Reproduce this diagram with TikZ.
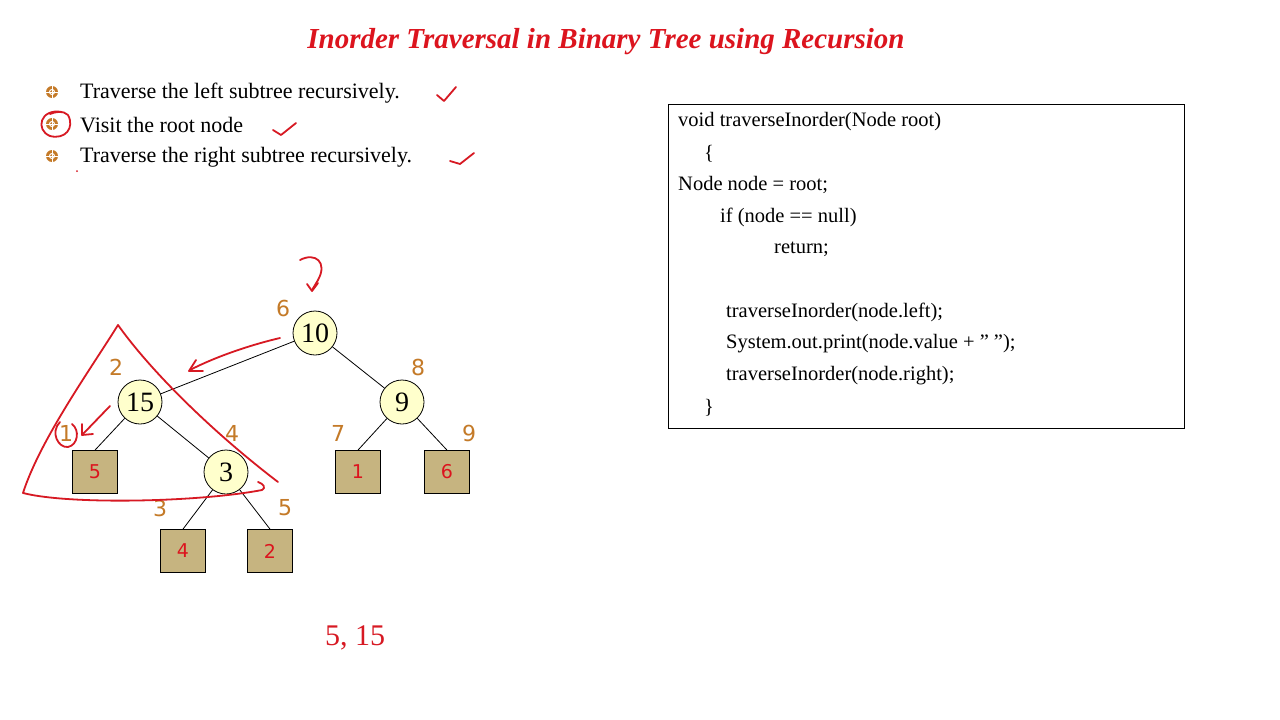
\documentclass[tikz,border=0pt]{standalone}
\usepackage{fontspec}
\setmainfont{Liberation Serif}
\newfontfamily\numf{DejaVu Sans}
\usetikzlibrary{arrows.meta}
\definecolor{ttl}{RGB}{220,20,30}
\definecolor{org}{RGB}{196,122,40}
\definecolor{tan}{RGB}{198,180,128}
\definecolor{cyel}{RGB}{255,255,204}
\definecolor{ink}{RGB}{215,25,35}
\begin{document}
\begin{tikzpicture}[x=1pt,y=-1pt,
 cnode/.style={circle,draw,thick,fill=cyel,minimum size=44pt,inner sep=0pt,font=\fontsize{28}{30}\selectfont},
 leaf/.style={draw,thick,fill=tan,minimum width=45pt,minimum height=43pt,inner sep=0pt,text=ttl,font=\numf\fontsize{19}{20}\selectfont},
 num/.style={text=org,font=\numf\fontsize{22}{24}\selectfont},
 edge/.style={thick},
 pen/.style={ink,line width=1.8pt,line cap=round,line join=round},
 txt/.style={anchor=west,font=\fontsize{22}{24}\selectfont,inner sep=0pt},
 code/.style={anchor=west,font=\fontsize{20.5}{22}\selectfont,inner sep=0pt},
 bul/.style={circle,fill=org,minimum size=12pt,inner sep=0pt}]
\useasboundingbox (0,0) rectangle (1280,720);
\fill[white] (0,0) rectangle (1280,720);
\node[text=ttl,font=\bfseries\itshape\fontsize{29}{32}\selectfont] (title) at (606,42) {Inorder Traversal in Binary Tree using Recursion};
% bullets
\foreach \y/\n in {92/b1,124/b2,156/b3}{
 \node[bul] (\n) at (52,\y) {};
 \draw[white,line width=1pt] (52,\y) circle (2.5pt);
 \draw[white,line width=0.8pt] (46,\y) -- (58,\y) (52,\y-6) -- (52,\y+6);
}
\node[txt] (t1) at (80,93) {Traverse the left subtree recursively.};
\node[txt] (t2) at (80,125) {Visit the root node};
\node[txt] (t3) at (80,157) {Traverse the right subtree recursively.};
\draw[pen] (437,95) -- (444,101) -- (456,87);
\draw[pen] (273,130) -- (281,135) -- (296,123);
\draw[pen] (450,161) -- (460,164) -- (474,153);
\draw[pen] (62,112) .. controls (40,108) and (35,130) .. (50,136) .. controls (65,140) and (75,128) .. (68,115) .. controls (63,110) and (55,112) .. (50,114);
\fill[ink] (77,171) circle (1pt);
% code
\node[draw,thick,minimum width=516pt,minimum height=324pt,anchor=north west] (box) at (668,104) {};
\node[code] (c1) at (678,122) {void traverseInorder(Node root)};
\node[code] (c2) at (704,154) {\{};
\node[code] (c3) at (678,185) {Node node = root;};
\node[code] (c4) at (720,217) {if (node == null)};
\node[code] (c5) at (774,249) {return;};
\node[code] (c6) at (726,312) {traverseInorder(node.left);};
\node[code] (c7) at (726,344) {System.out.print(node.value + " ");};
\node[code] (c8) at (726,376) {traverseInorder(node.right);};
\node[code] (c9) at (704,408) {\}};
% tree
\node[cnode] (n10) at (315,333) {10};
\node[cnode] (n15) at (140,402) {15};
\node[cnode] (n9) at (402,402) {9};
\node[cnode] (n3) at (226,472) {3};
\node[leaf] (l5) at (95,472) {5};
\node[leaf] (l1) at (358,472) {1};
\node[leaf] (l6) at (447,472) {6};
\node[leaf] (l4) at (183,551) {4};
\node[leaf] (l2) at (270,551) {2};
\draw[edge] (n10) -- (n15); \draw[edge] (n10) -- (n9);
\draw[edge] (n15) -- (l5.north); \draw[edge] (n15) -- (n3);
\draw[edge] (n9) -- (l1.north); \draw[edge] (n9) -- (l6.north);
\draw[edge] (n3) -- (l4.north); \draw[edge] (n3) -- (l2.north);
\node[num] (k6) at (283,308) {6};
\node[num] (k2) at (116,367) {2};
\node[num] (k8) at (418,367) {8};
\node[num] (k1) at (66,433) {1};
\node[num] (k4) at (232,433) {4};
\node[num] (k7) at (338,433) {7};
\node[num] (k9) at (469,433) {9};
\node[num] (k3) at (160,508) {3};
\node[num] (k5) at (285,508) {5};
% ink strokes
\draw[pen] (300,260) .. controls (315,252) and (328,262) .. (318,280) -- (312,290);
\draw[pen] (307,284) -- (312,291) -- (318,283);
\draw[pen] (280,338) .. controls (250,345) and (215,357) .. (190,370);
\draw[pen] (196,360) -- (189,371) -- (203,371);
\draw[pen] (110,406) -- (83,434);
\draw[pen] (82,424) -- (82,435) -- (93,434);
\draw[pen] (60,422) .. controls (50,432) and (58,448) .. (68,447) .. controls (78,445) and (80,430) .. (72,424);
\draw[pen] (118,325) .. controls (90,370) and (40,440) .. (23,493) .. controls (70,505) and (200,502) .. (262,490) .. controls (266,488) and (264,484) .. (258,482);
\draw[pen] (118,325) .. controls (150,370) and (210,430) .. (278,482);
\node[ink,font=\fontsize{30}{32}\selectfont] (ans) at (355,638) {5, 15};
\end{tikzpicture}
\end{document}
